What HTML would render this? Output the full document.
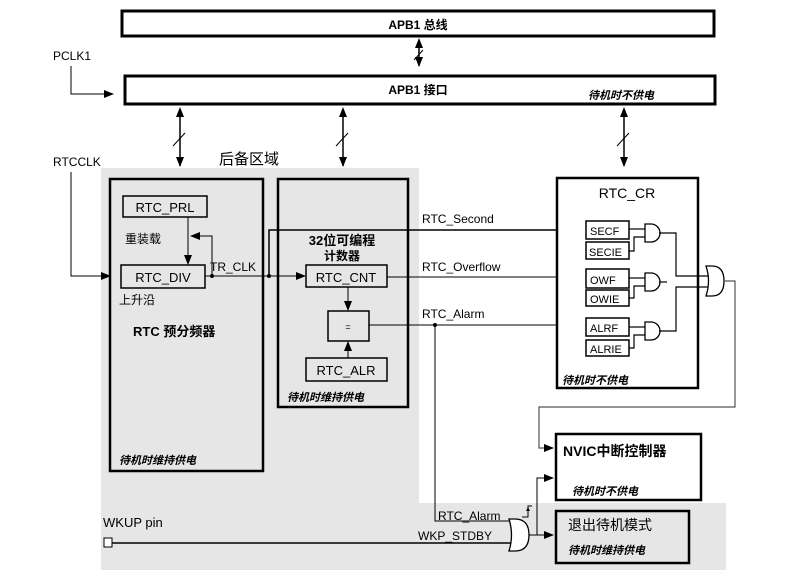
<!DOCTYPE html>
<html><head><meta charset="utf-8"><style>
html,body{margin:0;padding:0;background:#fff;}
svg{display:block;font-family:"Liberation Sans","Noto Sans CJK SC",sans-serif;}
.t{font-size:12px;fill:#000}
.b{font-weight:bold}
.i{font-style:italic;font-size:11px;font-weight:bold}
</style></head><body>
<svg width="792" height="578" viewBox="0 0 792 578" xmlns="http://www.w3.org/2000/svg">
<defs>
<marker id="a" markerWidth="10" markerHeight="8" refX="9" refY="4" orient="auto" markerUnits="userSpaceOnUse"><path d="M0,0 L10,4 L0,8 z" fill="#000"/></marker>
<marker id="s" markerWidth="10" markerHeight="8" refX="1" refY="4" orient="auto-start-reverse" markerUnits="userSpaceOnUse"><path d="M0,0 L10,4 L0,8 z" fill="#000"/></marker>
</defs>
<!-- gray regions -->
<rect x="101" y="168" width="318" height="402" fill="#e6e6e6"/>
<rect x="101" y="503" width="625" height="67" fill="#e6e6e6"/>
<!-- APB boxes -->
<rect x="122" y="11" width="592" height="25" fill="#fff" stroke="#000" stroke-width="3"/>
<text x="418" y="29" class="t b" text-anchor="middle">APB1 总线</text>
<rect x="125" y="76" width="590" height="28" fill="#fff" stroke="#000" stroke-width="3"/>
<text x="418" y="94" class="t b" text-anchor="middle">APB1 接口</text>
<text x="588" y="99" class="i">待机时不供电</text>
<!-- bus arrows -->
<g stroke="#000" stroke-width="1.5" fill="none">
<line x1="419" y1="47" x2="419" y2="66" marker-start="url(#s)" marker-end="url(#a)"/>
<line x1="180" y1="116" x2="180" y2="166" marker-start="url(#s)" marker-end="url(#a)"/>
<line x1="343" y1="116" x2="343" y2="166" marker-start="url(#s)" marker-end="url(#a)"/>
<line x1="624" y1="116" x2="624" y2="166" marker-start="url(#s)" marker-end="url(#a)"/>
</g>
<g stroke="#000" stroke-width="1">
<line x1="414" y1="60" x2="423" y2="50"/>
<line x1="173" y1="146" x2="185" y2="133"/>
<line x1="336" y1="146" x2="348" y2="133"/>
<line x1="617" y1="146" x2="629" y2="133"/>
</g>
<text x="53" y="60" class="t">PCLK1</text>
<polyline points="71,66 71,94 113,94" fill="none" stroke="#000" marker-end="url(#a)"/>
<text x="53" y="166" class="t">RTCCLK</text>
<polyline points="71,172 71,276 110,276" fill="none" stroke="#000" marker-end="url(#a)"/>
<text x="219" y="164" style="font-size:15px" class="t">后备区域</text>
<!-- prescaler box -->
<rect x="110" y="179" width="153" height="292" fill="none" stroke="#000" stroke-width="2.5"/>
<rect x="123" y="196" width="84" height="21" fill="#e6e6e6" stroke="#000" stroke-width="1.5"/>
<text x="165" y="212" class="t" text-anchor="middle" style="font-size:13px">RTC_PRL</text>
<text x="125" y="243" class="t">重装载</text>
<rect x="121" y="265" width="84" height="23" fill="#e6e6e6" stroke="#000" stroke-width="1.5"/>
<text x="163" y="282" class="t" text-anchor="middle" style="font-size:13px">RTC_DIV</text>
<text x="119" y="304" class="t">上升沿</text>
<text x="133" y="336" class="t b" style="font-size:13px">RTC 预分频器</text>
<text x="119" y="464" class="i">待机时维持供电</text>
<line x1="188" y1="217" x2="188" y2="264" stroke="#000" marker-end="url(#a)"/>
<polyline points="212,276 212,236 191,236" fill="none" stroke="#000" marker-end="url(#a)"/>
<text x="210" y="271" class="t">TR_CLK</text>
<!-- counter box -->
<rect x="278" y="179" width="130" height="228" fill="none" stroke="#000" stroke-width="2.5"/>
<text x="342" y="245" class="t b" text-anchor="middle" style="font-size:13px">32位可编程</text>
<text x="342" y="260" class="t b" text-anchor="middle">计数器</text>
<rect x="306" y="265" width="81" height="22" fill="#e6e6e6" stroke="#000" stroke-width="1.5"/>
<text x="346" y="282" class="t" text-anchor="middle" style="font-size:13px">RTC_CNT</text>
<rect x="328" y="311" width="41" height="30" fill="#e6e6e6" stroke="#000" stroke-width="1.5"/>
<text x="348" y="330" class="t" text-anchor="middle" style="font-size:9px">=</text>
<rect x="306" y="358" width="81" height="23" fill="#e6e6e6" stroke="#000" stroke-width="1.5"/>
<text x="346" y="375" class="t" text-anchor="middle" style="font-size:13px">RTC_ALR</text>
<text x="287" y="401" class="i">待机时维持供电</text>
<line x1="348" y1="287" x2="348" y2="310" stroke="#000" marker-end="url(#a)"/>
<line x1="348" y1="358" x2="348" y2="342" stroke="#000" marker-end="url(#a)"/>
<!-- clock line -->
<line x1="205" y1="276" x2="305" y2="276" stroke="#000" marker-end="url(#a)"/>
<circle cx="212" cy="276" r="2" fill="#000"/>
<circle cx="269" cy="276" r="2" fill="#000"/>
<polyline points="269,276 269,230 574,230" fill="none" stroke="#000" stroke-width="1.5" marker-end="url(#a)"/>
<text x="422" y="223" class="t">RTC_Second</text>
<line x1="387" y1="277" x2="574" y2="277" stroke="#000" marker-end="url(#a)"/>
<text x="422" y="271" class="t">RTC_Overflow</text>
<line x1="369" y1="325" x2="574" y2="325" stroke="#000" marker-end="url(#a)"/>
<text x="422" y="318" class="t">RTC_Alarm</text>
<circle cx="435" cy="325" r="2" fill="#000"/>
<polyline points="435,325 435,521 513,521" fill="none" stroke="#000"/>
<!-- RTC_CR -->
<rect x="557" y="178" width="141" height="210" fill="#fff" stroke="#000" stroke-width="2.5"/>
<text x="627" y="198" class="t" text-anchor="middle" style="font-size:14px">RTC_CR</text>
<g stroke="#000" stroke-width="1.5" fill="#fff">
<rect x="586" y="221" width="43" height="18"/><rect x="586" y="242" width="43" height="17"/>
<rect x="586" y="269" width="43" height="19"/><rect x="586" y="290" width="43" height="16"/>
<rect x="586" y="318" width="43" height="18"/><rect x="586" y="340" width="43" height="16"/>
</g>
<g class="t" style="font-size:11px">
<text x="590" y="235">SECF</text><text x="589" y="256">SECIE</text>
<text x="590" y="284">OWF</text><text x="590" y="303">OWIE</text>
<text x="590" y="332">ALRF</text><text x="590" y="353">ALRIE</text>
</g>
<g stroke="#000" stroke-width="1.3" fill="#fff">
<path d="M645,224 h6 a8,8 0 0 1 0,18 h-6 z"/>
<path d="M645,273 h6 a8,8 0 0 1 0,18 h-6 z"/>
<path d="M645,322 h6 a8,8 0 0 1 0,18 h-6 z"/>
<path d="M706,266 h6 q12,0 12,15 q0,15 -12,15 h-6 q5,-15 0,-30 z"/>
</g>
<g stroke="#000" fill="none" stroke-width="1.2">
<polyline points="629,229 645,229"/><polyline points="629,251 634,251 634,237 645,237"/>
<polyline points="629,278 645,278"/><polyline points="629,298 634,298 634,286 645,286"/>
<polyline points="629,327 645,327"/><polyline points="629,348 634,348 634,335 645,335"/>
<polyline points="659,233 676,233 676,276 708,276"/>
<polyline points="659,282 667,282"/>
<polyline points="659,331 676,331 676,287 708,287"/>
<polyline points="724,281 735,281 735,407 539,407 539,448 553,448" stroke="#555" marker-end="url(#a)"/>
</g>
<text x="562" y="384" class="i">待机时不供电</text>
<!-- NVIC -->
<rect x="556" y="434" width="145" height="66" fill="#fff" stroke="#000" stroke-width="2.5"/>
<text x="563" y="456" class="t b" style="font-size:14px">NVIC中断控制器</text>
<text x="572" y="495" class="i">待机时不供电</text>
<!-- exit standby -->
<rect x="556" y="511" width="133" height="52" fill="#e6e6e6" stroke="#000" stroke-width="2.5"/>
<text x="568" y="530" class="t" style="font-size:14px">退出待机模式</text>
<text x="568" y="554" class="i">待机时维持供电</text>
<!-- wkup -->
<text x="103" y="527" class="t" style="font-size:13px">WKUP pin</text>
<rect x="104" y="538" width="8" height="9" fill="#fff" stroke="#000"/>
<line x1="112" y1="543" x2="514" y2="543" stroke="#000" stroke-width="1.5"/>
<text x="418" y="540" class="t">WKP_STDBY</text>
<text x="438" y="520" class="t">RTC_Alarm</text>
<path d="M509,519 h6 q14,0 14,16 q0,16 -14,16 h-6 q5,-16 0,-32 z" fill="#fff" stroke="#000" stroke-width="1.3"/>
<polyline points="529,535 553,535" fill="none" stroke="#000" marker-end="url(#a)"/>
<polyline points="537,535 537,478 553,478" fill="none" stroke="#000" marker-end="url(#a)"/>
<polyline points="522,517 528,517 528,506 532,506" fill="none" stroke="#000"/>
<path d="M526,511 l2,-4 l2,4 z" fill="#000"/>
</svg>
</body></html>
